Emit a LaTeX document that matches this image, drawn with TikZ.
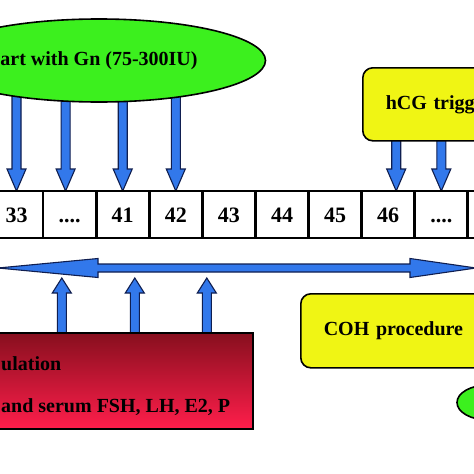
\documentclass[tikz,border=0pt]{standalone}
\usepackage{fontspec}
\setmainfont{Liberation Serif}
\usepackage{tikz}
\usetikzlibrary{shapes.geometric, positioning, calc, backgrounds}

\definecolor{gnfill}{RGB}{60,240,30}
\definecolor{trigfill}{RGB}{240,245,20}
\definecolor{arrfill}{RGB}{50,120,235}
\definecolor{arredge}{RGB}{15,30,80}
\definecolor{montop}{RGB}{135,15,30}
\definecolor{monbot}{RGB}{255,30,75}

% block arrow: x from #1, runs from #2 to #3, head base at #3 shifted by #4
\newcommand{\vblock}[4]{%
  \filldraw[blockarrow] let \p1=(#1), \p2=(#2), \p3=(#3) in
    (\x1-4.5pt,\y2) -- (\x1-4.5pt,\y3#4) -- (\x1-9.5pt,\y3#4) -- (\x1,\y3)
    -- (\x1+9.5pt,\y3#4) -- (\x1+4.5pt,\y3#4) -- (\x1+4.5pt,\y2) -- cycle;}

\begin{document}
\begin{tikzpicture}[x=1pt, y=-1pt,
    node distance=0pt,
    gnell/.style={ellipse, draw, line width=1.6pt, fill=gnfill, minimum width=333pt, minimum height=83pt, font=\fontsize{20}{24}\selectfont\bfseries},
    daybox/.style={rectangle, draw, line width=2.8pt, fill=white, minimum width=53.1pt, minimum height=47pt, outer sep=0pt, inner sep=0pt, text height=15pt, text depth=0pt, font=\fontsize{22}{24}\selectfont\bfseries},
    yelbox/.style={rectangle, rounded corners=10pt, draw, line width=1.6pt, fill=trigfill, text width=150pt, inner xsep=23pt, align=left, anchor=north west, font=\fontsize{20}{24}\selectfont\bfseries},
    monbox/.style={rectangle, draw, line width=1.6pt, top color=montop, bottom color=monbot, minimum width=272pt, minimum height=96pt, anchor=north west},
    blockarrow/.style={fill=arrfill, draw=arredge, line width=1.1pt, line join=miter}
]
\useasboundingbox (0,0) rectangle (474,474);

\node[gnell] (gn) at (99,60.5) {art with Gn (75-300IU)};
\node[yelbox, minimum height=73pt] (trig) at (362,67) {hCG trigg};

% days
\node[daybox] (d33) at (16.5,214.5) {33};
\node[daybox, right=of d33] (dots1) {....};
\node[daybox, right=of dots1] (d41) {41};
\node[daybox, right=of d41] (d42) {42};
\node[daybox, right=of d42] (d43) {43};
\node[daybox, right=of d43] (d44) {44};
\node[daybox, right=of d44] (d45) {45};
\node[daybox, right=of d45] (d46) {46};
\node[daybox, right=of d46] (dots2) {....};
\node[daybox, right=of dots2] (dnext) {};

\coordinate (spanl) at (-2,268);
\coordinate (spanr) at (476,268);

\node[monbox] (mon) at (-20,332) {};
\node[anchor=west, align=left, inner sep=0pt, font=\fontsize{20}{42}\selectfont\bfseries] (montext) at (1,386) {ulation\\and serum FSH, LH, E2, P};
\node[yelbox, minimum height=74pt] (coh) at (300,293) {COH procedure};
\node[ellipse, draw, line width=1.6pt, fill=gnfill, minimum width=62pt, minimum height=35pt] (blob) at (488,402.5) {};

\begin{scope}[on background layer]
\vblock{d33.north}{gn.center}{d33.north}{+22pt}
\vblock{$(dots1.north)+(-4,0)$}{gn.center}{dots1.north}{+22pt}
\vblock{d41.north}{gn.center}{d41.north}{+22pt}
\vblock{d42.north}{gn.center}{d42.north}{+22pt}
\vblock{$(d46.north)+(8,0)$}{trig.center}{d46.north}{+22pt}
\vblock{dots2.north}{trig.center}{dots2.north}{+22pt}
\vblock{$(mon.north)+(-55,0)$}{mon.center}{$(spanl)+(0,10)$}{-15pt}
\vblock{$(mon.north)+(18,0)$}{mon.center}{$(spanl)+(0,10)$}{-15pt}
\vblock{$(mon.north)+(90,0)$}{mon.center}{$(spanl)+(0,10)$}{-15pt}
% span of stimulation
\filldraw[blockarrow] let \p1=(spanl), \p2=(spanr) in
  (\x1,\y1) -- (\x1+100pt,\y1+9.5pt) -- (\x1+100pt,\y1+4pt) -- (\x2-66pt,\y2+4pt)
  -- (\x2-66pt,\y2+9.5pt) -- (\x2,\y2) -- (\x2-66pt,\y2-9.5pt) -- (\x2-66pt,\y2-4pt)
  -- (\x1+100pt,\y1-4pt) -- (\x1+100pt,\y1-9.5pt) -- cycle;
\end{scope}
\end{tikzpicture}
\end{document}
